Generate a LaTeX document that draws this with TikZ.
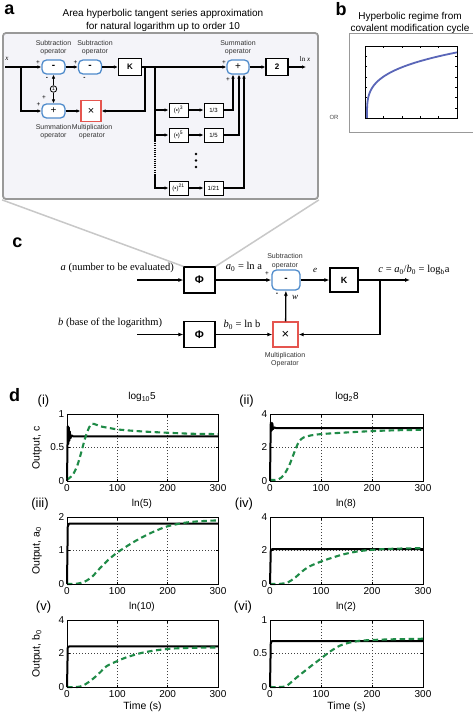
\documentclass[tikz,border=0pt]{standalone}
\usepackage{fontspec}
\setmainfont{Liberation Serif}
\setsansfont{Liberation Sans}
\usetikzlibrary{arrows.meta}
\definecolor{opblue}{HTML}{4F8BCB}
\definecolor{opred}{HTML}{E5554F}
\definecolor{boxfill}{HTML}{F4F4F9}
\definecolor{boxedge}{HTML}{999999}
\definecolor{dgreen}{HTML}{1F8B47}
\definecolor{curveblue}{HTML}{5A66B8}
\definecolor{zoomgray}{HTML}{C8C8C8}
\newcommand{\myfs}[2]{\fontsize{#1}{#2}\selectfont}
\newcommand{\dgrid}[1]{%
  \draw[gridl] (100,0) -- (100,#1);
  \draw[gridl] (200,0) -- (200,#1);
  \draw[gridl] (0,#1/2) -- (300,#1/2);}
\newcommand{\dframe}[4]{%
  \draw[line width=0.7pt] (0,0) rectangle (300,#2);
  \foreach \tx in {100,200}{%
    \draw[line width=0.6pt] (\tx,0) -- ++(0pt,2.5pt);
    \draw[line width=0.6pt] (\tx,#2) -- ++(0pt,-2.5pt);}
  \draw[line width=0.6pt] (0,#2/2) -- ++(2.5pt,0pt);
  \draw[line width=0.6pt] (300,#2/2) -- ++(-2.5pt,0pt);
  \node[tickl, anchor=north] (#1xa) at ([yshift=-3.5pt]0,0) {0};
  \node[tickl, anchor=north] (#1xb) at ([yshift=-3.5pt]100,0) {100};
  \node[tickl, anchor=north] (#1xc) at ([yshift=-3.5pt]200,0) {200};
  \node[tickl, anchor=north] (#1xd) at ([yshift=-3.5pt]300,0) {300};
  \node[tickl, anchor=east] (#1ya) at ([xshift=-2.5pt]0,0) {0};
  \node[tickl, anchor=east] (#1yb) at ([xshift=-2.5pt]0,#2/2) {#3};
  \node[tickl, anchor=east] (#1yc) at ([xshift=-2.5pt]0,#2) {#4};}
\begin{document}
\begin{tikzpicture}[x=1pt,y=-1pt,
  panel/.style={font=\sffamily\bfseries\myfs{18}{18}, inner sep=0},
  ttl/.style={font=\sffamily\myfs{10}{12.5}, align=center, inner sep=0},
  oplbl/.style={font=\sffamily\myfs{7}{8.5}, align=center, inner sep=0, text=black!80},
  sgn/.style={font=\sffamily\myfs{6.5}{6.5}, inner sep=0},
  sumop/.style={draw=opblue, line width=1.3pt, rounded corners=4.5pt, fill=white, minimum width=23pt, minimum height=14pt, inner sep=0, font=\sffamily\myfs{10}{10}},
  mulop/.style={draw=opred, line width=1.3pt, fill=white, minimum width=20pt, minimum height=21pt, inner sep=0, font=\sffamily\myfs{11}{11}},
  blk/.style={draw=black, line width=1.2pt, fill=white, inner sep=0, font=\sffamily\bfseries\myfs{8}{8}},
  smallblk/.style={blk, line width=1pt, minimum width=19pt, minimum height=14pt, font=\sffamily\myfs{6}{6}},
  arr/.style={-{Latex[length=4pt,width=3.6pt]}, line width=1.1pt},
  wire/.style={line width=1.1pt},
  arrc/.style={-{Latex[length=5pt,width=4pt]}, line width=1.3pt},
  serif/.style={font=\rmfamily\myfs{10.5}{10.5}, inner sep=0},
  tickl/.style={font=\sffamily\myfs{10}{10}, inner sep=0},
  ptitle/.style={font=\sffamily\myfs{10}{10}, inner sep=0},
  rom/.style={font=\sffamily\myfs{13}{13}, inner sep=0},
  ylab/.style={font=\sffamily\myfs{10.5}{10.5}, inner sep=0, rotate=90},
  gridl/.style={line width=0.6pt, dash pattern=on 0.7pt off 2.3pt, black!75},
  gcurve/.style={dgreen, line width=2.1pt, dash pattern=on 5.5pt off 3.5pt},
  kcurve/.style={black, line width=2pt, line join=round},
  pI/.style={shift={(67,481)}, x=0.50333pt, y=67pt},
  pII/.style={shift={(270,481)}, x=0.51pt, y=16.75pt},
  pIII/.style={shift={(67,584)}, x=0.50333pt, y=33.5pt},
  pIV/.style={shift={(270,584)}, x=0.51pt, y=16.75pt},
  pV/.style={shift={(67,687)}, x=0.50333pt, y=16.75pt},
  pVI/.style={shift={(270,687)}, x=0.51pt, y=67pt}]
\useasboundingbox (0,0) rectangle (473,715);
\fill[white] (0,0) rectangle (473,715);

% ---------------- panel a ----------------
\node[panel] (la) at (9.5,9.5) {a};
\node[ttl] (ta) at (163,20.5) {Area hyperbolic tangent series approximation\\for natural logarithm up to order 10};
\node[draw=boxedge, line width=1.8pt, fill=boxfill, rounded corners=3pt, minimum width=315pt, minimum height=166pt, inner sep=0] (boxa) at (160.5,116) {};

\node[oplbl] (lsub1) at (53.5,47.5) {Subtraction\\operator};
\node[oplbl] (lsub2) at (95,47.5) {Subtraction\\operator};
\node[oplbl] (lsumR) at (238,47.5) {Summation\\operator};
\node[oplbl] (lsum2) at (53.5,131.5) {Summation\\operator};
\node[oplbl] (lmul1) at (92,131.5) {Multiplication\\operator};

\node[sumop] (sub1) at (53.5,67) {\bfseries -};
\node[sumop] (sub2) at (90,67) {\bfseries -};
\node[blk, minimum width=23pt, minimum height=17pt] (K1) at (130,67) {K};
\node[sumop, minimum width=22pt] (sumR) at (238,67) {+};
\node[blk, minimum width=22pt, minimum height=17pt] (two) at (277,67) {2};
\node[sumop] (sum2) at (53.5,111) {+};
\node[mulop] (mul1) at (91,111) {×};
\node[circle, draw, line width=0.8pt, inner sep=0, minimum size=6.5pt, font=\sffamily\myfs{5}{5}] (one) at (53.5,89) {1};

\node[smallblk] (p3) at (178.5,110) {(•)\textsuperscript{3}};
\node[smallblk] (r3) at (213.5,110) {1/3};
\node[smallblk] (p5) at (178.5,135) {(•)\textsuperscript{5}};
\node[smallblk] (r5) at (213.5,135) {1/5};
\node[smallblk] (p21) at (178.5,188) {(•)\textsuperscript{21}};
\node[smallblk] (r21) at (213.5,188) {1/21};

\coordinate (xin) at (5,67);
\node[font=\rmfamily\itshape\myfs{7}{7}, inner sep=0] (xl) at (7,59) {x};
\coordinate (lnout) at (306,67);
\node[font=\rmfamily\myfs{7}{7}, inner sep=0] (lnl) at (305,59.5) {ln \textit{x}};
\coordinate (bA) at (21,67);
\coordinate (bK) at (145,67);
\coordinate (bS) at (155,67);
\coordinate (dA) at (155,141);
\coordinate (dB) at (155,175);

\draw[arr] (xin) -- (sub1);
\draw[arr] (bA) |- (sum2.west);
\draw[arr] (sub1) -- (sub2);
\draw[arr] (sub2) -- (K1);
\draw[arr] (K1) -- (sumR);
\draw[arr] (sumR) -- (two);
\draw[arr] (two) -- (lnout);
\draw[arr] (one) -- (sub1);
\draw[arr] (one) -- (sum2);
\draw[arr] (sum2) -- (mul1);
\draw[arr] (bK) |- (mul1.east);
\draw[wire] (bS) -- (dA);
\draw[line width=1.1pt, dash pattern=on 1pt off 1.2pt] (dA) -- (dB);
\draw[arr] (dB) |- (p21.west);
\draw[arr] (bS |- p3.west) -- (p3.west);
\draw[arr] (bS |- p5.west) -- (p5.west);
\draw[arr] (p3) -- (r3);
\draw[arr] (p5) -- (r5);
\draw[arr] (p21) -- (r21);
\draw[arr] (r3.east) -| ([xshift=-5pt]sumR.south);
\draw[arr] (r5.east) -| ([xshift=1pt]sumR.south);
\draw[arr] (r21.east) -| ([xshift=6pt]sumR.south);
\fill (196,154) circle (1.3);
\fill (196,160.5) circle (1.3);
\fill (196,167) circle (1.3);

\node[sgn] (s1p) at (38,63) {+};
\node[sgn] (s1m) at (47,78) {\bfseries -};
\node[sgn] (s2p) at (75.5,63) {+};
\node[sgn] (s2m) at (84.5,78.5) {\bfseries -};
\node[sgn] (s3p) at (44,98) {+};
\node[sgn] (s3q) at (38.5,105) {+};
\node[sgn] (s4p) at (224,63) {+};
\node[sgn] (s4q) at (228,80) {+};

% ---------------- panel b ----------------
\node[panel] (lb) at (341,9.5) {b};
\node[ttl] (tb) at (410,23) {Hyperbolic regime from\\covalent modification cycle};
\draw[boxedge, line width=0.9pt] (474,33) -- (349,33) -- (349,132) -- (474,132);
\foreach \i in {1,...,4}{%
  \draw[line width=0.4pt] (365+18.4*\i,118) -- ++(0,-1.8);
  \draw[line width=0.4pt] (365+18.4*\i,46) -- ++(0,1.8);}
\foreach \i in {1,...,6}{%
  \draw[line width=0.4pt] (365,46+10.286*\i) -- ++(1.8,0);
  \draw[line width=0.4pt] (457,46+10.286*\i) -- ++(-1.8,0);}
\draw[curveblue, line width=1.8pt] (367,118) -- plot[domain=0.3:9.487, samples=60] ({367+\x*\x}, {118-19.3*(\x)^(0.544)});
\draw[line width=0.8pt] (365,46) rectangle (457,118);
\node[font=\sffamily\myfs{6}{6}, text=black!70, inner sep=0] (orl) at (334,117) {OR};

% ---------------- panel c ----------------
\node[panel] (lc) at (17.5,243) {c};
\node[blk, minimum width=31pt, minimum height=26pt, font=\sffamily\bfseries\myfs{11}{11}] (phi1) at (199.5,280) {Φ};
\node[blk, minimum width=31pt, minimum height=26pt, font=\sffamily\bfseries\myfs{11}{11}] (phi2) at (199.5,334.5) {Φ};
\node[sumop, minimum width=28pt, minimum height=20pt] (subc) at (286,280) {\bfseries -};
\node[blk, minimum width=28pt, minimum height=24pt, font=\sffamily\bfseries\myfs{9}{9}] (Kc) at (344,280) {K};
\node[mulop, minimum width=25pt, minimum height=25pt, font=\sffamily\myfs{13}{13}] (mulc) at (285.5,334.5) {×};
\draw[zoomgray, line width=1.5pt] (boxa.south west) -- (phi1.north west);
\draw[zoomgray, line width=1.5pt] (boxa.south east) -- (phi1.north east);

\coordinate (ain) at (137,280);
\coordinate (bin) at (137,334.5);
\coordinate (cout) at (410,280);
\coordinate (bc) at (380,280);
\draw[arrc] (ain) -- (phi1);
\draw[arrc] (phi1) -- (subc);
\draw[arrc] (subc) -- (Kc);
\draw[arrc] (Kc) -- (cout);
\draw[arrc] (bc) |- (mulc.east);
\draw[arrc] (bin) -- (phi2);
\draw[arrc] (phi2) -- (mulc);
\draw[arrc] (mulc) -- (subc);

\node[serif, anchor=east] (al) at (174,268) {\textit{a} (number to be evaluated)};
\node[serif, anchor=west] (bl) at (58,323) {\textit{b} (base of the logarithm)};
\node[serif] (a0l) at (244,267) {\textit{a}\textsubscript{0} = ln a};
\node[serif] (b0l) at (242,325) {\textit{b}\textsubscript{0} = ln b};
\node[serif] (cl) at (414,270) {\textit{c} = \textit{a}\textsubscript{0}/\textit{b}\textsubscript{0} = log\textsubscript{b}a};
\node[serif, font=\rmfamily\itshape\myfs{9}{9}] (el) at (315,270) {e};
\node[serif, font=\rmfamily\itshape\myfs{9}{9}] (wl) at (295,297) {w};
\node[sgn] (cp) at (267,274) {+};
\node[sgn, font=\sffamily\bfseries\myfs{7}{7}] (cm) at (277,294) {-};
\node[oplbl] (lsubc) at (285,261) {Subtraction\\operator};
\node[oplbl] (lmulc) at (285,359.5) {Multiplication\\Operator};

% ---------------- panel d ----------------
\node[panel] (ld) at (14.5,395) {d};
\node[rom] (ri) at (43.5,401.5) {(i)};
\node[rom] (rii) at (246.5,401.5) {(ii)};
\node[rom] (riii) at (40,504.5) {(iii)};
\node[rom] (riv) at (244,504.5) {(iv)};
\node[rom] (rv) at (43.5,607.5) {(v)};
\node[rom] (rvi) at (243,607.5) {(vi)};
\node[ptitle] (ti) at (142,397) {log\textsubscript{10}5};
\node[ptitle] (tii) at (347,397) {log\textsubscript{2}8};
\node[ptitle] (tiii) at (142,504) {ln(5)};
\node[ptitle] (tiv) at (346,504) {ln(8)};
\node[ptitle] (tv) at (142,607) {ln(10)};
\node[ptitle] (tvi) at (346,607) {ln(2)};
\node[ylab] (yli) at (37,448) {Output, c};
\node[ylab] (yliii) at (37,551) {Output, a\textsubscript{0}};
\node[ylab] (ylv) at (37,654) {Output, b\textsubscript{0}};
\node[ptitle, font=\sffamily\myfs{10.5}{10.5}] (tmv) at (142.5,707) {Time (s)};
\node[ptitle, font=\sffamily\myfs{10.5}{10.5}] (tmvi) at (346.5,707) {Time (s)};

\begin{scope}[pI]
  \dgrid{1}
  \draw[kcurve] (0,0) -- (1.5,0.82) -- (2.5,0.55) -- (3.5,0.8) -- (4.5,0.6) -- (5.5,0.74) -- (7,0.64) -- (9,0.68) -- (12,0.667) -- (300,0.667);
  \draw[gcurve] plot[smooth, tension=0.5] coordinates {(0,0.02) (4,0.04) (12,0.1) (20,0.22) (28,0.42) (36,0.64) (44,0.8) (50,0.855) (58,0.84) (70,0.81) (85,0.79) (100,0.77) (130,0.75) (160,0.735) (200,0.72) (250,0.705) (300,0.7)};
  \dframe{pi}{1}{0.5}{1}
\end{scope}
\begin{scope}[pII]
  \dgrid{4}
  \draw[kcurve] (0,0) -- (1.5,3.5) -- (3,3.0) -- (4.5,3.45) -- (6,3.1) -- (8,3.2) -- (12,3.16) -- (300,3.16);
  \draw[gcurve] plot[smooth, tension=0.5] coordinates {(0,0.08) (12,0.06) (22,0.2) (30,0.5) (38,0.95) (45,1.5) (52,2.05) (58,2.4) (66,2.6) (80,2.72) (100,2.8) (140,2.88) (200,2.98) (250,3.03) (300,3.06)};
  \dframe{pii}{4}{2}{4}
\end{scope}
\begin{scope}[pIII]
  \dgrid{2}
  \draw[kcurve] (0,0) -- (1.5,1.72) -- (4,1.8) -- (300,1.8);
  \draw[gcurve] plot[smooth, tension=0.5] coordinates {(0,0) (20,0.01) (35,0.07) (50,0.22) (66,0.48) (82,0.72) (99,0.93) (116,1.1) (132,1.25) (150,1.4) (166,1.52) (183,1.63) (199,1.72) (230,1.82) (260,1.87) (300,1.9)};
  \dframe{piii}{2}{1}{2}
\end{scope}
\begin{scope}[pIV]
  \dgrid{4}
  \draw[kcurve] (0,0) -- (1.5,2.0) -- (4,2.08) -- (300,2.08);
  \draw[gcurve] plot[smooth, tension=0.5] coordinates {(0,0) (20,0.01) (35,0.1) (50,0.4) (63,0.75) (76,1.03) (99,1.33) (120,1.55) (139,1.73) (160,1.88) (185,2.0) (220,2.08) (260,2.12) (300,2.14)};
  \dframe{piv}{4}{2}{4}
\end{scope}
\begin{scope}[pV]
  \dgrid{4}
  \draw[kcurve] (0,0) -- (1.5,2.35) -- (4,2.42) -- (300,2.42);
  \draw[gcurve] plot[smooth, tension=0.5] coordinates {(0,0) (20,0) (33,0.1) (50,0.45) (65,0.85) (79,1.25) (100,1.55) (116,1.75) (132,1.9) (150,2.05) (179,2.2) (212,2.3) (250,2.34) (300,2.36)};
  \dframe{pv}{4}{2}{4}
\end{scope}
\begin{scope}[pVI]
  \dgrid{1}
  \draw[kcurve] (0,0) -- (1.5,0.66) -- (4,0.686) -- (300,0.686);
  \draw[gcurve] plot[smooth, tension=0.5] coordinates {(0,0) (20,0) (33,0.02) (52,0.14) (75,0.28) (99,0.42) (118,0.53) (138,0.62) (160,0.67) (184,0.695) (230,0.71) (300,0.72)};
  \dframe{pvi}{1}{0.5}{1}
\end{scope}
\end{tikzpicture}
\end{document}
